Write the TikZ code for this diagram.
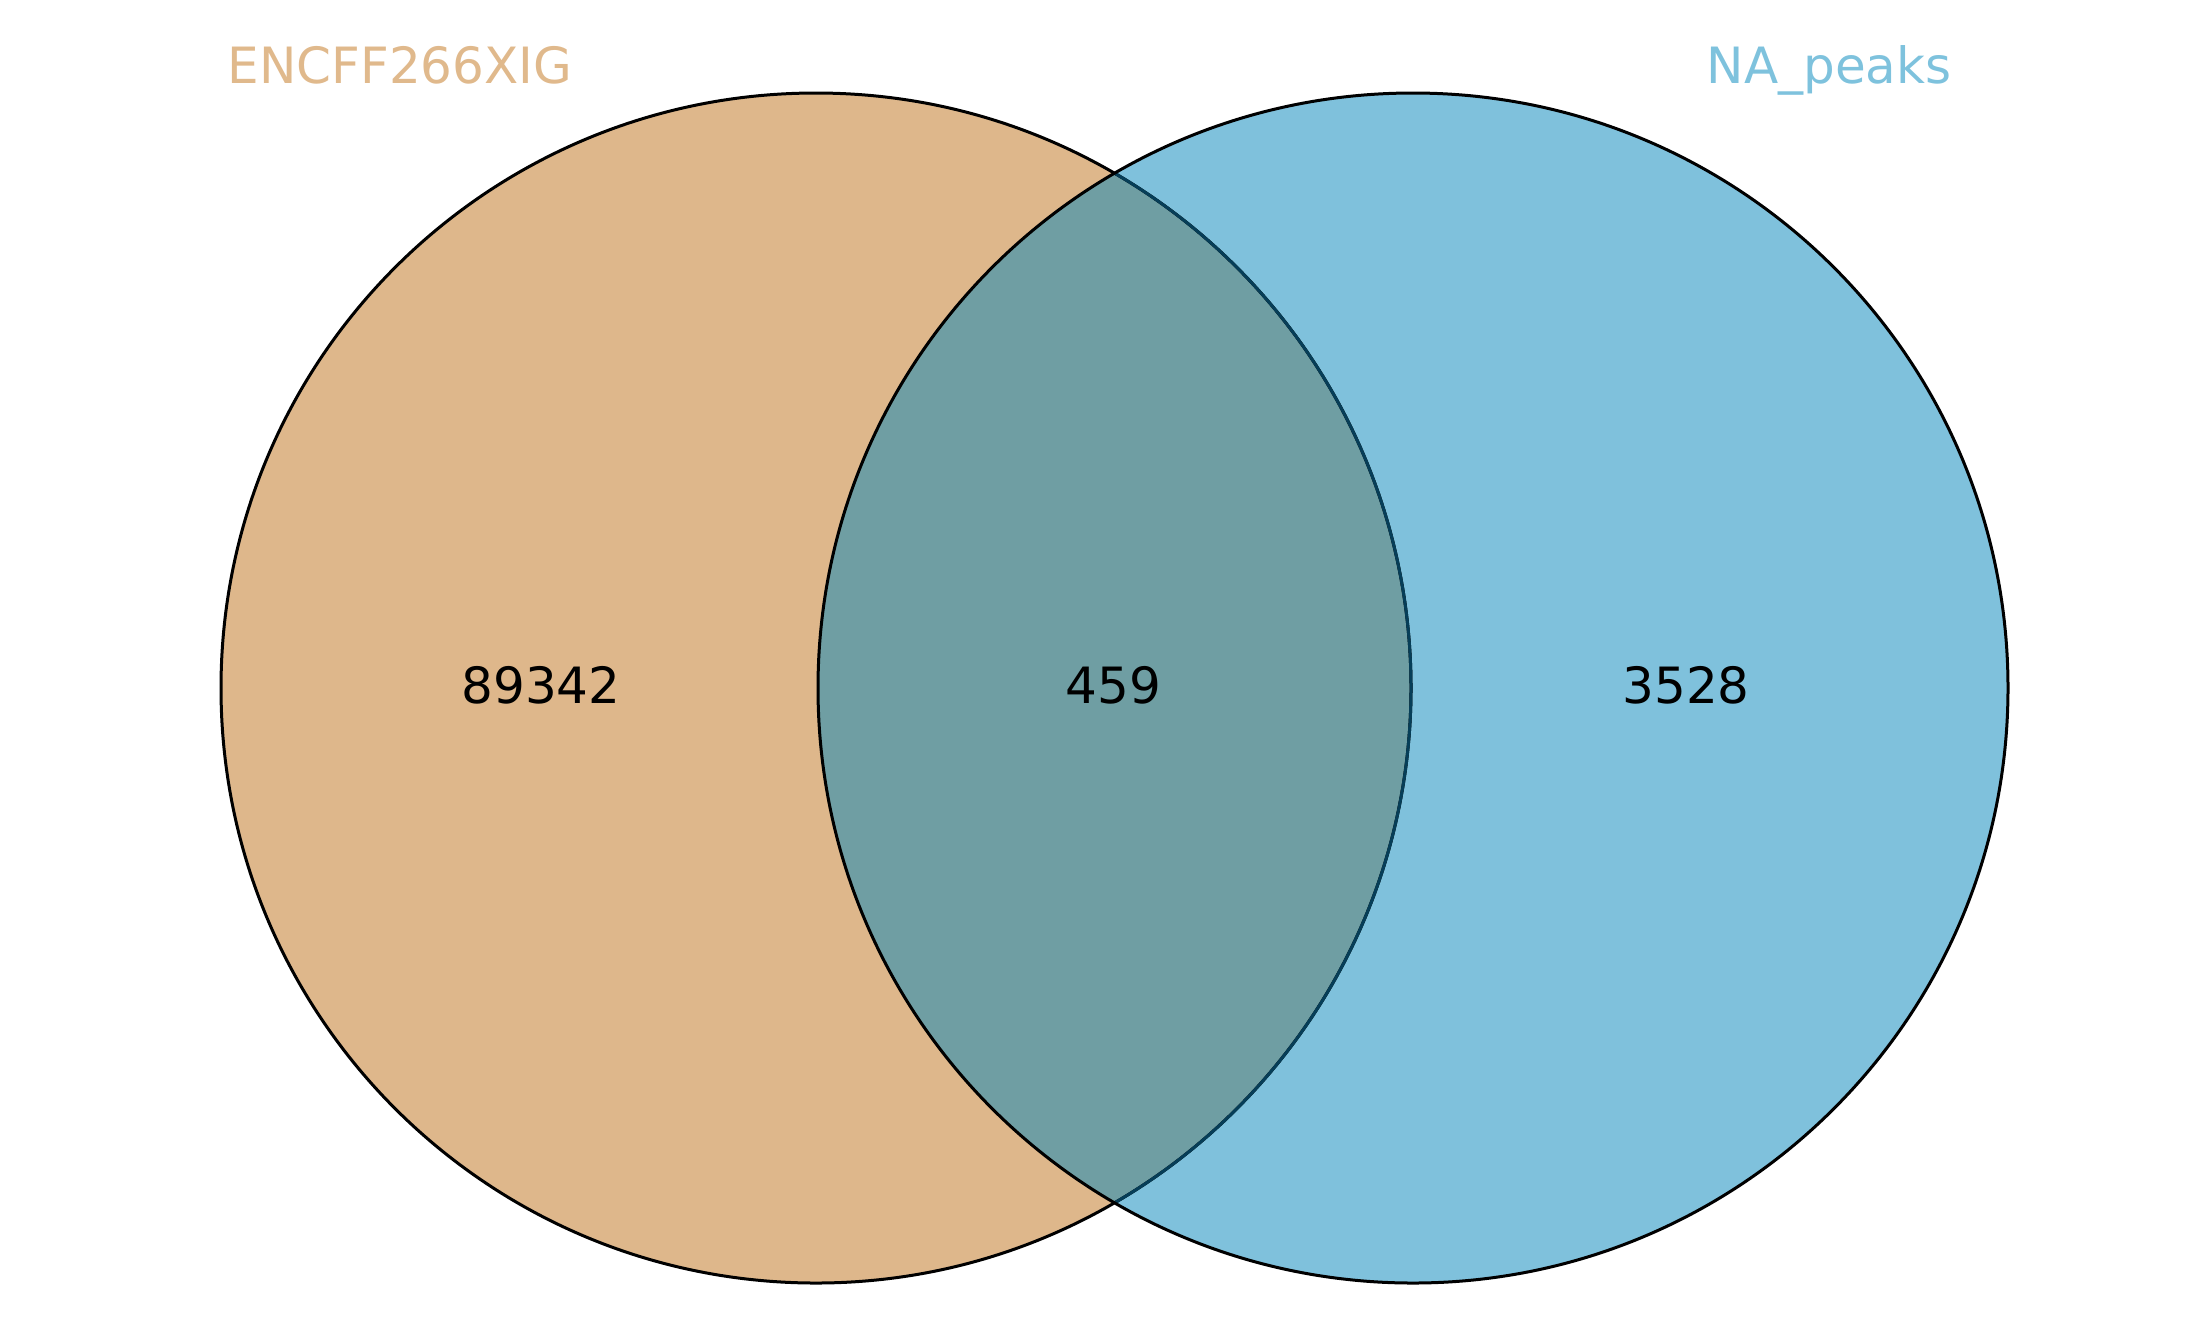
\documentclass[tikz,border=0pt]{standalone}
\usepackage{fontspec}
\setmainfont{DejaVu Sans}
\definecolor{leftfill}{RGB}{222,183,139}
\definecolor{rightfill}{RGB}{127,193,220}
\definecolor{midfill}{RGB}{111,158,163}
\definecolor{leftlabel}{RGB}{224,185,140}
\definecolor{rightlabel}{RGB}{126,194,221}
\definecolor{darkedge}{RGB}{6,62,88}
\begin{document}
\begin{tikzpicture}[x=0.3pt,y=-0.3pt,
  edge/.style={line width=0.9pt},
  count/.style={font=\fontsize{15}{18}\selectfont, text=black, inner sep=0pt},
  setlabel/.style={font=\fontsize{15}{18}\selectfont, inner sep=0pt, anchor=base}]
\useasboundingbox (0,0) rectangle (2208,1318);
\coordinate (cl) at (816,688);
\coordinate (cr) at (1413,688);
\fill[leftfill] (cl) circle[radius=595];
\fill[rightfill] (cr) circle[radius=595];
\begin{scope}
  \clip (cl) circle[radius=595];
  \fill[midfill] (cr) circle[radius=595];
\end{scope}
\draw[edge, black] (cl) circle[radius=595];
\begin{scope}
  \clip (cr) circle[radius=595];
  \draw[edge, darkedge] (cl) circle[radius=595];
\end{scope}
\draw[edge, black] (cr) circle[radius=595];
\node[count] (a) at (541,685) {89342};
\node[count] (ab) at (1113.5,685) {459};
\node[count] (b) at (1686,685) {3528};
\node[setlabel, text=leftlabel] (la) at (400,83) {ENCFF266XIG};
\node[setlabel, text=rightlabel] (lb) at (1829,83) {NA\_peaks};
\end{tikzpicture}
\end{document}
